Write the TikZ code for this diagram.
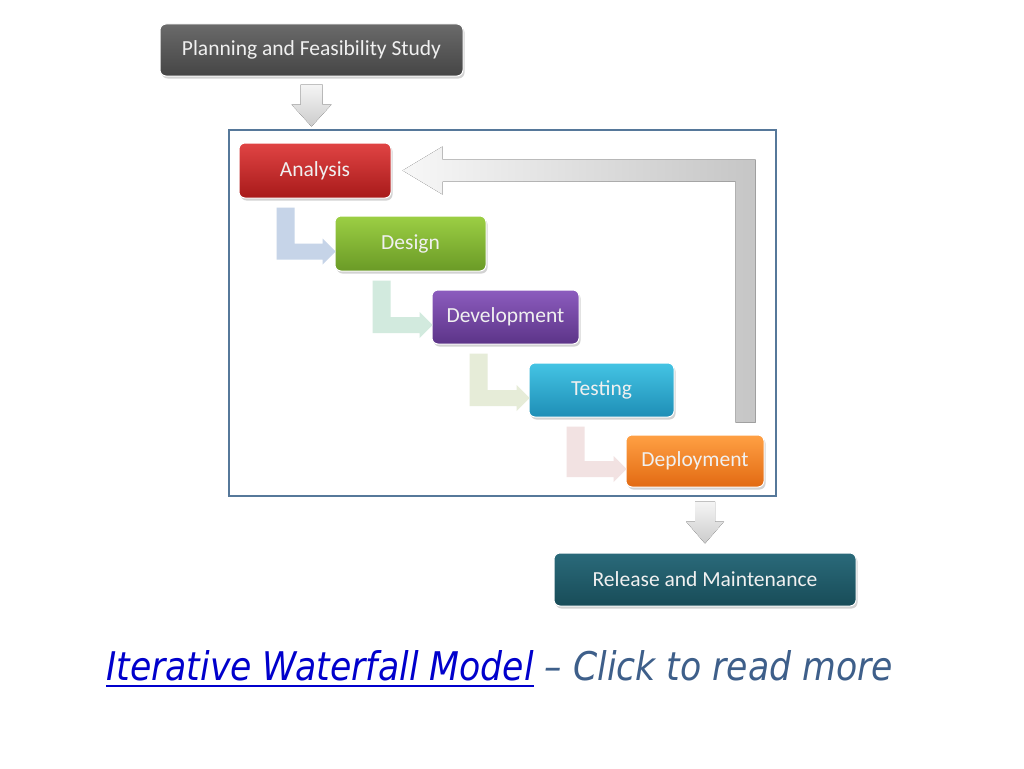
\documentclass[tikz,border=0pt]{standalone}
\usepackage{fontspec}
\setmainfont{Carlito}
\newfontfamily\capfont{DejaVu Sans}
\usetikzlibrary{calc,shadows}
\definecolor{planA}{HTML}{6A6A6A}\definecolor{planB}{HTML}{454545}
\definecolor{anaA}{HTML}{E04444}\definecolor{anaB}{HTML}{A81A1A}
\definecolor{desA}{HTML}{9CCF44}\definecolor{desB}{HTML}{6A9A26}
\definecolor{devA}{HTML}{8C5CBE}\definecolor{devB}{HTML}{5C3488}
\definecolor{tesA}{HTML}{44C4E4}\definecolor{tesB}{HTML}{1E8EB6}
\definecolor{depA}{HTML}{FFA044}\definecolor{depB}{HTML}{E26A12}
\definecolor{relA}{HTML}{2A6A7A}\definecolor{relB}{HTML}{184C58}
\definecolor{frameblue}{HTML}{56789A}
\definecolor{linkblue}{HTML}{0000CC}
\definecolor{capgray}{HTML}{3E5F8A}
\definecolor{Lblue}{HTML}{C6D4E8}
\definecolor{Lgreen}{HTML}{D2EADE}
\definecolor{Lolive}{HTML}{E6ECD8}
\definecolor{Lpink}{HTML}{F2E2E2}
\tikzset{
  box/.style={rounded corners=6pt, draw=white, line width=1pt, align=center,
    text=white!94!black, font=\fontsize{21.5}{24}\selectfont, inner sep=0pt,
    drop shadow={shadow xshift=1.5pt, shadow yshift=-2.5pt, opacity=0.35}},
  grayarrow/.style={top color=gray!8, bottom color=gray!40, draw=none},
}
\newcommand{\lconn}[3]{%
  \fill[#3] (#1.south west) ++(38,9) coordinate (q#1) -- ++(18,0) |- ($(#2.west)+(-12,0)$)
    -- ++(0,-5) -- ($(#2.west)+(1,8)$) -- ($(#2.west)+(-12,21)$) -- ++(0,-5) -| (q#1) -- cycle;}
\begin{document}
\begin{tikzpicture}[x=1pt,y=-1pt]
\useasboundingbox[fill=white] (0,0) rectangle (1024,768);
% frame
\node[draw=frameblue, line width=1.5pt, fill=white, minimum width=547pt, minimum height=366pt, inner sep=0pt] (frame) at (502.5,313) {};
% boxes
\node[box, top color=planA, bottom color=planB, minimum width=303pt, minimum height=52pt] (plan) at (311.5,50) {Planning and Feasibility Study};
\node[box, top color=anaA, bottom color=anaB, minimum width=152pt, minimum height=55pt] (ana) at (315,170.5) {Analysis};
\node[box, top color=desA, bottom color=desB, minimum width=151pt, minimum height=55pt] (des) at (410.5,243.5) {Design};
\node[box, top color=devA, bottom color=devB, minimum width=147pt, minimum height=54pt] (dev) at (505.5,317) {Development};
\node[box, top color=tesA, bottom color=tesB, minimum width=145pt, minimum height=54pt] (tes) at (601.5,390) {Testing};
\node[box, top color=depA, bottom color=depB, minimum width=138pt, minimum height=52pt] (dep) at (695,461) {Deployment};
\node[box, top color=relA, bottom color=relB, minimum width=302pt, minimum height=53pt] (rel) at (705,579.5) {Release and Maintenance};
% L connectors
\lconn{ana}{des}{Lblue}
\lconn{des}{dev}{Lgreen}
\lconn{dev}{tes}{Lolive}
\lconn{tes}{dep}{Lpink}
% feedback arrow
\coordinate (fb) at ($(dep.north east)+(-9,-12)$);
\fill[left color=gray!6, right color=gray!45] (fb) -- ++(-20,0) |- ($(ana.east)+(51,11)$) -- ++(0,13)
  -- ($(ana.east)+(11,0)$) -- ($(ana.east)+(51,-24)$) -- ++(0,13) -| (fb) -- cycle;
% down arrows
\fill[grayarrow] ($(plan.south)+(-11,8)$) -- ++(22,0) -- ++(0,20) -- ++(9,0) -- ++(-20,22) -- ++(-20,-22) -- ++(9,0) -- cycle;
\fill[grayarrow] ($(rel.north)+(-10,-51)$) -- ++(20,0) -- ++(0,20) -- ++(9,0) -- ++(-19,22) -- ++(-19,-22) -- ++(9,0) -- cycle;
% caption
\node[anchor=base west, inner sep=0pt] (cap) at (106,680) {\resizebox{787pt}{30pt}{\capfont\itshape\color{linkblue}\underline{Iterative Waterfall Model}\color{capgray}\ – Click to read more}};
\end{tikzpicture}
\end{document}
